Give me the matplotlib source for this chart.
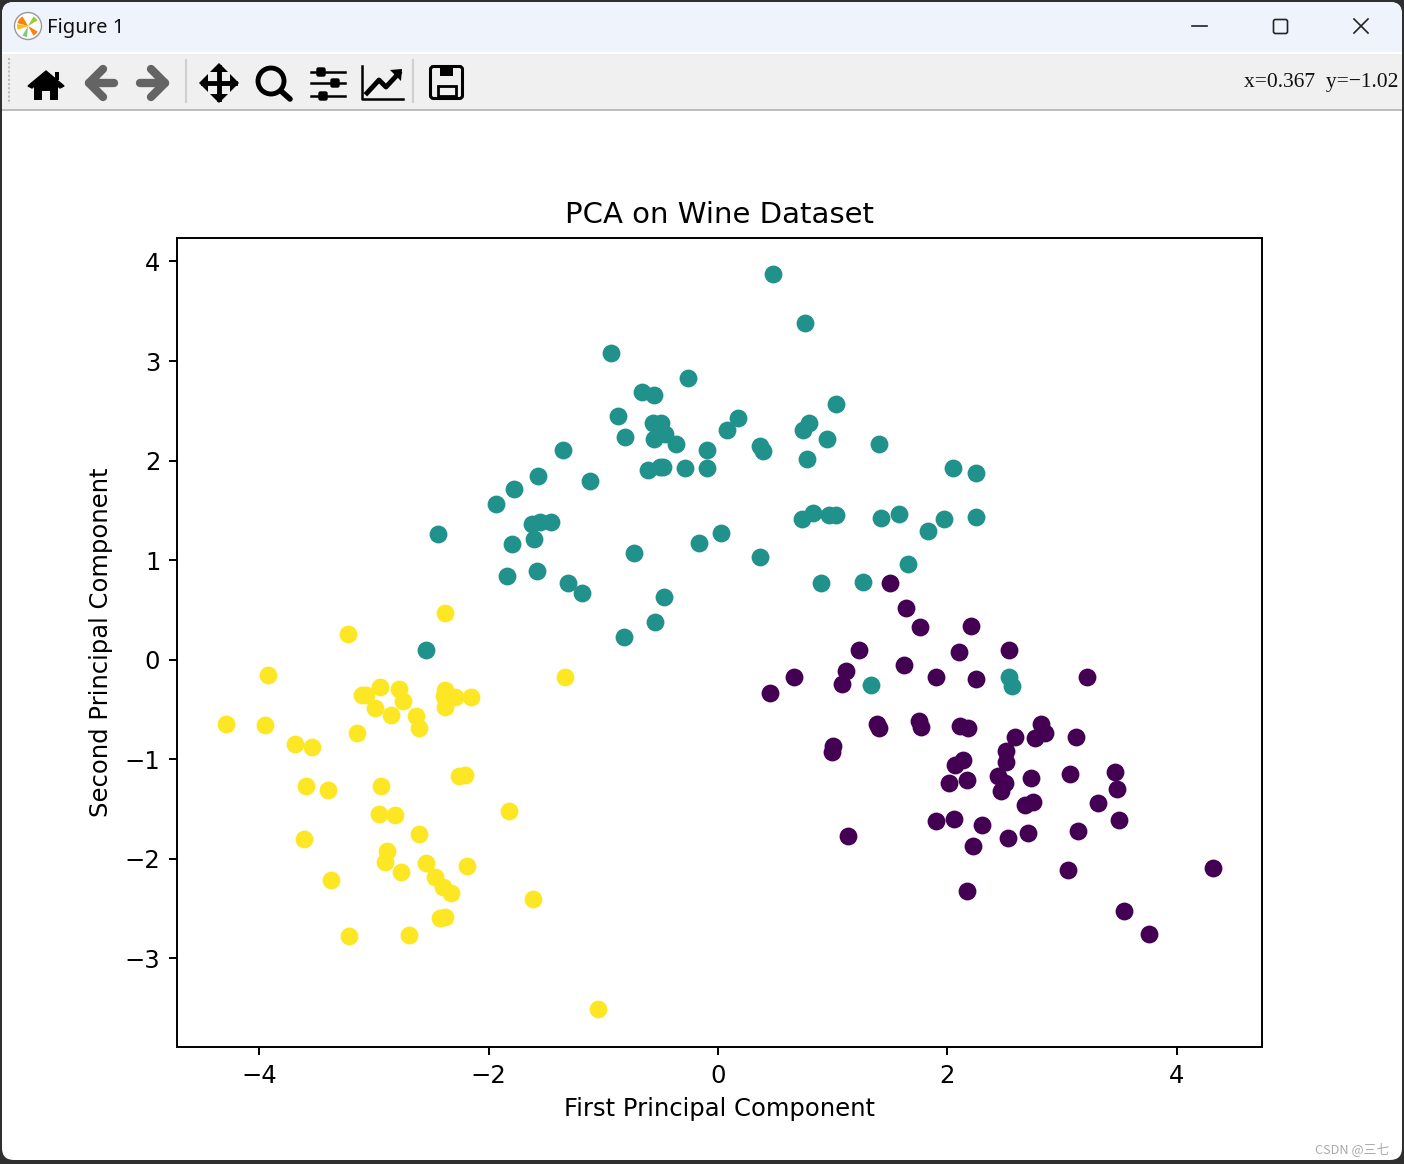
import matplotlib
matplotlib.use("Agg")
import matplotlib.pyplot as plt
from matplotlib.patches import Rectangle, FancyBboxPatch, Polygon, Circle, Wedge

# ---- data ----
class0_x = [1.50,1.64,1.76,2.21,2.54,1.23,2.10,1.62,1.12,0.66,1.08,0.45,1.90,2.25,3.22,1.75,1.77,1.39,1.40,2.11,2.18,2.82,2.85,2.76,2.59,3.12,1.00,0.99,2.51,2.51,2.14,2.07,2.01,2.17,2.44,2.50,2.47,2.73,3.07,3.46,3.48,3.31,3.50,2.75,2.68,1.90,2.06,2.30,1.13,2.70,2.53,3.14,2.22,3.05,4.32,2.17,3.54,3.76]
class0_y = [0.77,0.52,0.33,0.34,0.10,0.10,0.08,-0.05,-0.11,-0.17,-0.24,-0.33,-0.17,-0.19,-0.17,-0.61,-0.68,-0.65,-0.69,-0.67,-0.69,-0.65,-0.74,-0.79,-0.78,-0.78,-0.87,-0.93,-0.92,-1.03,-1.01,-1.06,-1.24,-1.21,-1.17,-1.24,-1.32,-1.19,-1.15,-1.13,-1.30,-1.44,-1.61,-1.43,-1.46,-1.62,-1.60,-1.66,-1.77,-1.74,-1.79,-1.72,-1.87,-2.11,-2.09,-2.32,-2.52,-2.75]
class1_x = [0.48,0.76,-0.93,-0.26,-0.66,-0.56,1.03,-0.87,0.17,-0.57,-0.50,0.79,0.74,0.08,-0.81,-0.56,-0.46,0.95,1.40,-0.37,0.37,0.39,-0.10,-1.35,0.78,-0.29,-0.10,-0.61,-0.51,-0.48,2.05,2.25,-1.57,-1.12,-1.78,-1.94,2.25,1.58,1.42,1.97,1.83,0.83,0.73,0.97,1.03,-1.62,-1.55,-1.46,-2.44,-1.60,-1.80,0.03,-0.17,-0.73,0.37,1.66,-1.58,-1.84,-1.31,0.90,1.26,-1.19,-0.47,-0.55,-0.82,-2.55,1.33,2.54,2.56]
class1_y = [3.87,3.38,3.08,2.83,2.69,2.66,2.57,2.45,2.43,2.38,2.38,2.38,2.31,2.31,2.24,2.22,2.27,2.22,2.17,2.17,2.15,2.10,2.11,2.11,2.02,1.93,1.93,1.91,1.94,1.94,1.93,1.88,1.85,1.80,1.72,1.56,1.43,1.46,1.42,1.41,1.29,1.47,1.41,1.45,1.45,1.36,1.38,1.38,1.26,1.21,1.16,1.27,1.17,1.07,1.03,0.96,0.89,0.84,0.77,0.77,0.78,0.67,0.63,0.38,0.23,0.10,-0.25,-0.17,-0.26]
class2_x = [-2.38,-3.23,-3.92,-1.33,-2.95,-2.78,-3.10,-3.07,-2.38,-2.39,-2.29,-2.15,-2.75,-2.99,-2.38,-2.85,-2.63,-2.61,-4.29,-3.95,-3.15,-3.69,-3.54,-3.59,-3.40,-2.94,-2.26,-2.21,-1.82,-2.96,-2.82,-2.61,-3.61,-2.89,-2.90,-2.55,-2.19,-2.76,-2.47,-3.37,-2.40,-2.33,-1.61,-2.42,-2.38,-3.22,-2.69,-1.05]
class2_y = [0.47,0.26,-0.15,-0.17,-0.27,-0.29,-0.35,-0.35,-0.30,-0.36,-0.37,-0.37,-0.41,-0.48,-0.47,-0.55,-0.56,-0.69,-0.65,-0.66,-0.74,-0.85,-0.88,-1.27,-1.31,-1.27,-1.17,-1.16,-1.52,-1.55,-1.56,-1.75,-1.80,-1.92,-2.03,-2.04,-2.07,-2.13,-2.18,-2.21,-2.28,-2.34,-2.40,-2.59,-2.58,-2.77,-2.76,-3.51]
class_colors = ["#440154", "#21918c", "#fde725"]
x_ticks = [-4, -2, 0, 2, 4]
y_ticks = [-3, -2, -1, 0, 1, 2, 3, 4]
title = "PCA on Wine Dataset"
x_label = "First Principal Component"
y_label = "Second Principal Component"

W, H = 1404, 1164
plt.rcParams['font.family'] = ['DejaVu Sans']
fig = plt.figure(figsize=(W/100, H/100), dpi=100, facecolor="#2f2f2f")

# window chrome, in pixel coordinates
c = fig.add_axes([0, 0, 1, 1], zorder=0)
c.set_xlim(0, W); c.set_ylim(H, 0); c.axis("off")
c.add_patch(FancyBboxPatch((14, 14), W-16-12, H-14-16, boxstyle="round,pad=12,rounding_size=12",
                           fc="white", ec="none"))
c.add_patch(FancyBboxPatch((14, 14), W-16-12, 60, boxstyle="round,pad=12,rounding_size=12",
                           fc="#eff3fb", ec="none"))
c.add_patch(Rectangle((2, 53), W-4, 57, fc="#f0f0f0", ec="none"))
c.add_patch(Rectangle((2, 52), W-4, 1.5, fc="white", ec="none"))
c.add_patch(Rectangle((2, 109), W-4, 2, fc="#bdbdbd", ec="none"))
c.text(47, 28.5, "Figure 1", fontsize=14.5, family="Noto Sans", va="center", color="#111111")
# app logo
c.add_patch(Circle((28, 26), 13.5, fc="white", ec="#999999", lw=1))
for a, b, col in [(120, 165, "#ff7f0e"), (170, 200, "#ffc000"), (300, 330, "#ff7f0e"),
                  (30, 60, "#9acd32"), (240, 265, "#7fc97f")]:
    c.add_patch(Wedge((28, 26), 11, -b, -a, fc=col, ec="none"))
# window buttons
c.plot([1192, 1207], [26, 26], color="#222222", lw=1.2)
c.add_patch(FancyBboxPatch((1275, 21), 11, 11, boxstyle="round,pad=1.5,rounding_size=2",
                           fc="none", ec="#222222", lw=1.2))
c.plot([1354, 1368], [19, 33], color="#222222", lw=1.2)
c.plot([1354, 1368], [33, 19], color="#222222", lw=1.2)
# toolbar
c.plot([9, 9], [58, 104], color="#bbbbbb", lw=1.5, ls=(0, (1, 1)))
for xs in (186, 413):
    c.plot([xs, xs], [60, 102], color="#cfcfcf", lw=1.5)
# home
c.add_patch(Polygon([(28, 86), (46, 71), (64, 86), (60, 88), (46, 76), (32, 88)], fc="black", ec="black", lw=1))
c.add_patch(Polygon([(34, 86), (46, 76), (58, 86), (58, 100), (50, 100), (50, 91), (42, 91), (42, 100), (34, 100)], fc="black"))
c.add_patch(Rectangle((55, 72), 4, 8, fc="black"))
# back / forward
g = "#646464"
c.plot([114, 89, 103], [83, 83, 69], color=g, lw=6, solid_capstyle="round", solid_joinstyle="round")
c.plot([89, 103], [83, 97], color=g, lw=6, solid_capstyle="round")
c.plot([140, 165, 151], [83, 83, 69], color=g, lw=6, solid_capstyle="round", solid_joinstyle="round")
c.plot([165, 151], [83, 97], color=g, lw=6, solid_capstyle="round")
# pan
c.plot([203, 235], [83, 83], color="black", lw=3.5)
c.plot([219, 219], [67, 99], color="black", lw=3.5)
for p in ([(199, 83), (208, 74), (208, 92)], [(239, 83), (230, 74), (230, 92)],
          [(219, 63), (210, 72), (228, 72)], [(219, 103), (210, 94), (228, 94)]):
    c.add_patch(Polygon(p, fc="black"))
# zoom
c.add_patch(Circle((271, 81), 13, fc="none", ec="black", lw=3.5))
c.plot([281, 290], [91, 99], color="black", lw=4, solid_capstyle="round")
# sliders
for yy, xx in ((72, 321), (83, 335), (96, 323)):
    c.plot([311, 345], [yy, yy], color="black", lw=1.8)
    c.add_patch(FancyBboxPatch((xx-3, yy-3), 6, 6, boxstyle="round,pad=1,rounding_size=1.5", fc="black"))
# lines
c.plot([362, 362, 403], [66, 98.5, 98.5], color="black", lw=1.8)
c.plot([367, 379, 386, 399], [93, 80, 87, 73], color="black", lw=3.5)
c.add_patch(Polygon([(402, 69), (390, 70), (401, 81)], fc="black"))
# save
c.add_patch(FancyBboxPatch((432, 68), 29, 29, boxstyle="round,pad=1.5,rounding_size=3", fc="none", ec="black", lw=2.2))
c.add_patch(Rectangle((440, 67), 13, 9, fc="black"))
c.add_patch(Rectangle((438, 86), 18, 10, fc="none", ec="black", lw=2))
c.text(1398, 82, "x=0.367  y=\u22121.02", fontsize=15.5, family="Liberation Serif", ha="right", va="center", color="#111111")
c.text(1389, 1149, "CSDN @三七", fontsize=9.2, family=["Noto Sans CJK SC", "DejaVu Sans"], ha="right", va="center", color="#aaaaaa")

# the chart
ax = fig.add_axes([177/W, 1 - 1047/H, (1262-177)/W, (1047-238)/H], zorder=1)
for xs, ys, col in zip((class0_x, class1_x, class2_x), (class0_y, class1_y, class2_y), class_colors):
    ax.scatter(xs, ys, s=165, color=col, linewidths=0, zorder=3)
ax.set_xlim(-4.717, 4.743)
ax.set_ylim(-3.889, 4.236)
ax.set_xticks(x_ticks)
ax.set_yticks(y_ticks)
ax.tick_params(labelsize=17.5, length=6, width=1.4, pad=6)
for s in ax.spines.values():
    s.set_linewidth(1.4)
ax.set_title(title, fontsize=21, pad=11)
ax.set_xlabel(x_label, fontsize=17.5, labelpad=7)
ax.set_ylabel(y_label, fontsize=17.5, labelpad=8)

fig.savefig("out.png", dpi=100, facecolor=fig.get_facecolor())
